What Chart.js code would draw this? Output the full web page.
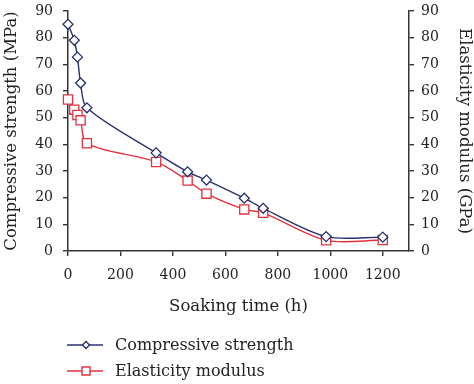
<!DOCTYPE html>
<html>
<head>
<meta charset="utf-8">
<script src="https://cdn.jsdelivr.net/npm/chart.js@4"></script>
<style>
  body { margin: 0; background: #fff; }
</style>
</head>
<body>
<canvas id="chart" width="474" height="384"></canvas>
<script>
// soaking time (h)
const hours = [0, 24, 36, 48, 72, 336, 456, 528, 672, 744, 984, 1200];
// compressive strength (MPa)
const compressive = [85, 79, 72.7, 63, 53.7, 36.8, 29.7, 26.6, 19.8, 16.0, 5.4, 5.2];
// elasticity modulus (GPa)
const elasticity = [56.8, 53, 51, 49, 40.4, 33.4, 26.4, 21.5, 15.6, 14.3, 4.0, 4.1];

const seriesNames = ["Compressive strength", "Elasticity modulus"];

const BLUE = "#27306c";
const RED = "#e2323c";
const AXIS = "#333";
const FONT = "DejaVu Serif";

Chart.defaults.font.family = FONT;
Chart.defaults.color = "#222";

const toPoints = (ys) => hours.map((h, i) => ({ x: h, y: ys[i] }));

// y axes: fixed width, no extra room for the half-height of end labels
const fixY = (w) => (s) => { s.width = w; s.paddingTop = 0; s.paddingBottom = 0; };

const legendPlugin = {
  id: "lineLegend",
  afterDraw(chart) {
    const ctx = chart.ctx;
    const rows = [
      { label: seriesNames[0], color: BLUE, style: "diamond", y: 345 },
      { label: seriesNames[1], color: RED, style: "square", y: 371 },
    ];
    ctx.save();
    rows.forEach(r => {
      ctx.strokeStyle = r.color;
      ctx.lineWidth = 1.4;
      ctx.beginPath();
      ctx.moveTo(67, r.y);
      ctx.lineTo(103, r.y);
      ctx.stroke();
      ctx.fillStyle = "#fff";
      ctx.beginPath();
      if (r.style === "diamond") {
        ctx.moveTo(86, r.y - 3.5);
        ctx.lineTo(89.5, r.y);
        ctx.lineTo(86, r.y + 3.5);
        ctx.lineTo(82.5, r.y);
        ctx.closePath();
      } else {
        ctx.rect(82, r.y - 4, 8, 8);
      }
      ctx.fill();
      ctx.stroke();
      ctx.fillStyle = "#222";
      ctx.font = "16px '" + FONT + "'";
      ctx.textBaseline = "middle";
      ctx.fillText(r.label, 115, r.y + 1);
    });
    ctx.restore();
  }
};

new Chart(document.getElementById("chart"), {
  type: "line",
  data: {
    datasets: [
      {
        label: seriesNames[0],
        data: toPoints(compressive),
        yAxisID: "y",
        borderColor: BLUE,
        borderWidth: 1.4,
        backgroundColor: "#fff",
        pointStyle: "rectRot",
        pointRadius: 5,
        pointBorderWidth: 1.3,
        pointBackgroundColor: "#fff",
        pointBorderColor: BLUE,
        tension: 0.3,
        clip: false,
        fill: false
      },
      {
        label: seriesNames[1],
        data: toPoints(elasticity),
        yAxisID: "y1",
        borderColor: RED,
        borderWidth: 1.4,
        backgroundColor: "#fff",
        pointStyle: "rect",
        pointRadius: 6.5,
        pointBorderWidth: 1.3,
        pointBackgroundColor: "#fff",
        pointBorderColor: RED,
        tension: 0.3,
        clip: false,
        fill: false
      }
    ]
  },
  options: {
    responsive: false,
    animation: false,
    layout: { padding: { top: 11, bottom: 67, left: 0, right: 0 } },
    plugins: {
      legend: { display: false },
      tooltip: { enabled: false }
    },
    scales: {
      x: {
        type: "linear",
        min: 0,
        max: 1300,
        ticks: { stepSize: 200, includeBounds: false, padding: 11, font: { size: 14 }, callback: (v) => String(v) },
        grid: { drawOnChartArea: false, tickLength: 5, color: AXIS, lineWidth: 1.4 },
        border: { color: AXIS, width: 1.5 },
        title: { display: true, text: "Soaking time (h)", font: { size: 16.5 }, padding: { top: 4, bottom: 0 } },
        afterFit: (s) => { s.height = 66; s.paddingLeft = 0; s.paddingRight = 0; }
      },
      y: {
        position: "left",
        min: 0,
        max: 90,
        ticks: { stepSize: 10, padding: 10, font: { size: 14 } },
        grid: { drawOnChartArea: false, tickLength: 5, color: AXIS, lineWidth: 1.4 },
        border: { color: AXIS, width: 1.5 },
        title: { display: true, text: "Compressive strength (MPa)", font: { size: 16.5 }, padding: { top: 2, bottom: 0 } },
        afterFit: fixY(68)
      },
      y1: {
        position: "right",
        min: 0,
        max: 90,
        ticks: { stepSize: 10, padding: 7, font: { size: 14 } },
        grid: { drawOnChartArea: false, tickLength: 5, color: AXIS, lineWidth: 1.4 },
        border: { color: AXIS, width: 1.5 },
        title: { display: true, text: "Elasticity modulus (GPa)", font: { size: 16.5 }, padding: { top: 0, bottom: 2 } },
        afterFit: fixY(65)
      }
    }
  },
  plugins: [legendPlugin]
});
</script>
</body>
</html>
